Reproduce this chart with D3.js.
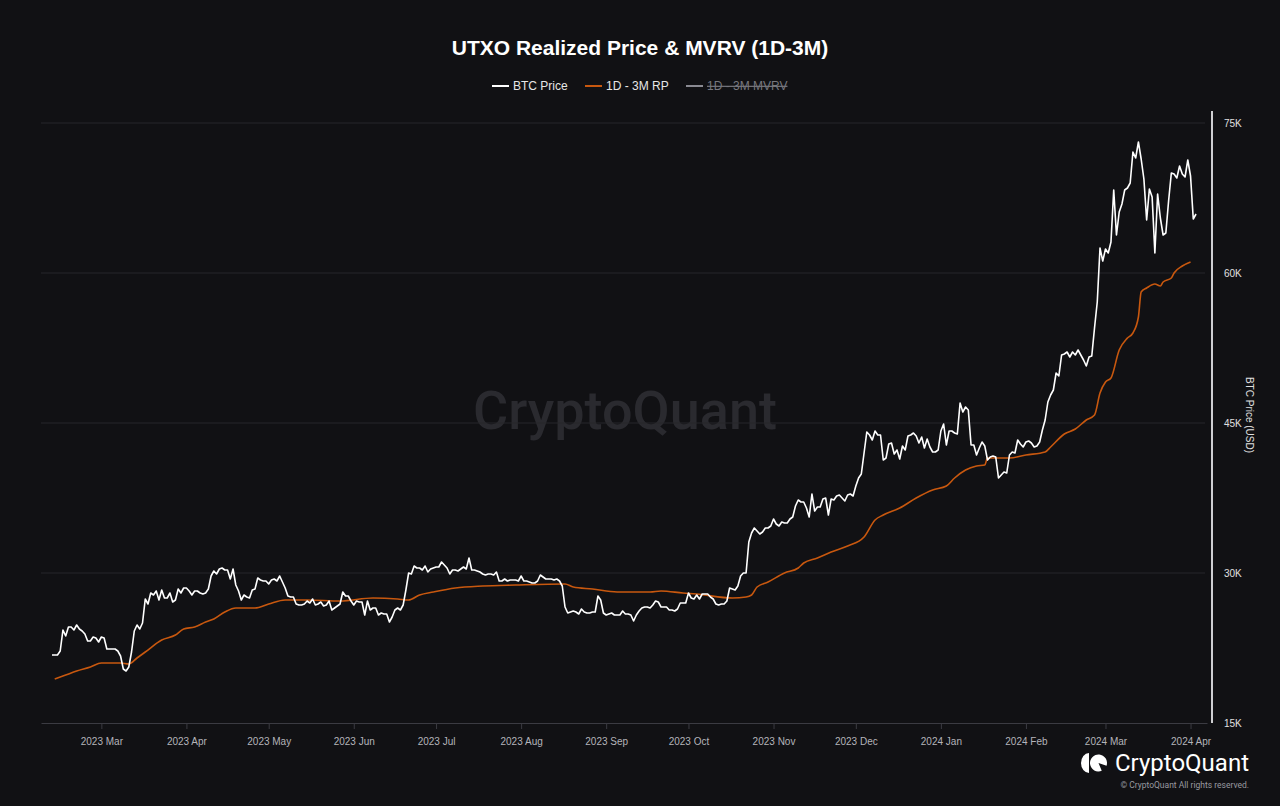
<!DOCTYPE html>
<html>
<head>
<meta charset="utf-8">
<script src="https://cdn.jsdelivr.net/npm/d3@7"></script>
<style>
  html, body { margin: 0; padding: 0; background: #111114; }
  svg { display: block; font-family: "Liberation Sans", Arial, sans-serif; }
</style>
</head>
<body>
<div id="chart"></div>
<script>
// daily BTC close (thousand USD), first value is 2023-02-11
const priceStart = '2023-02-11';
const btcPrice = [
  21.8, 21.8, 21.8, 22.2, 24.3, 23.7, 24.6, 24.6, 24.3, 24.8, 24.4, 24.2, 23.9, 23.2, 23.2, 23.6, 23.5, 23.1,
  // 2023 Mar
  23.6, 23.5, 22.4, 22.4, 22.4, 22.4, 22.2, 21.7, 20.4, 20.2, 20.6, 22.1, 24.2, 24.8, 24.4, 25.0, 27.4, 26.9, 28.0, 27.8, 28.2, 27.3, 28.3, 27.5, 27.5, 28.0, 27.1, 27.3, 28.4, 28.0, 28.5,
  // 2023 Apr
  28.5, 28.2, 27.8, 28.2, 28.2, 28.0, 27.9, 28.0, 28.4, 29.7, 30.2, 29.9, 30.4, 30.5, 30.3, 30.3, 29.4, 30.4, 28.8, 28.2, 27.3, 27.8, 27.6, 27.5, 28.3, 28.4, 29.5, 29.3, 29.2, 29.2,
  // 2023 May
  28.9, 29.3, 29.4, 29.2, 29.7, 29.1, 28.5, 27.7, 27.6, 27.6, 26.9, 26.8, 26.8, 26.9, 27.2, 27.0, 27.4, 26.8, 26.9, 27.1, 26.7, 26.8, 27.2, 26.3, 26.5, 26.7, 26.9, 28.1, 27.7, 27.7, 27.2,
  // 2023 Jun
  26.8, 27.2, 27.1, 27.1, 25.8, 27.2, 26.3, 26.5, 26.5, 25.8, 26.0, 25.9, 25.9, 25.1, 25.6, 26.3, 26.5, 26.3, 26.8, 28.3, 30.0, 29.9, 30.7, 30.5, 30.5, 30.3, 30.7, 30.1, 30.4, 30.5,
  // 2023 Jul
  30.6, 30.6, 31.1, 30.8, 30.5, 29.9, 30.3, 30.3, 30.2, 30.4, 30.6, 30.4, 31.5, 30.3, 30.3, 30.2, 30.1, 29.9, 29.8, 29.9, 29.9, 29.8, 30.1, 29.2, 29.2, 29.4, 29.2, 29.3, 29.3, 29.3, 29.2,
  // 2023 Aug
  29.7, 29.2, 29.2, 29.1, 29.0, 29.0, 29.2, 29.8, 29.6, 29.4, 29.4, 29.4, 29.3, 29.4, 29.2, 28.7, 26.6, 26.0, 26.1, 26.2, 26.1, 25.9, 26.4, 26.1, 26.0, 26.0, 26.1, 26.1, 27.7, 27.3, 26.0,
  // 2023 Sep
  25.8, 25.9, 26.0, 25.8, 25.8, 25.8, 26.2, 25.9, 25.9, 25.8, 25.2, 25.8, 26.2, 26.5, 26.6, 26.6, 26.5, 26.8, 27.2, 27.1, 26.6, 26.6, 26.6, 26.3, 26.3, 26.2, 26.4, 27.0, 27.0, 27.0,
  // 2023 Oct
  28.0, 27.5, 27.4, 27.8, 27.4, 27.9, 27.9, 27.9, 27.6, 27.4, 26.9, 26.8, 26.9, 26.9, 27.2, 28.5, 28.4, 28.3, 28.7, 29.7, 30.0, 30.0, 33.1, 34.0, 34.5, 34.2, 33.9, 34.1, 34.5, 34.5, 34.7,
  // 2023 Nov
  35.4, 34.9, 34.7, 35.1, 35.0, 35.0, 35.4, 35.6, 36.7, 37.3, 37.1, 37.1, 36.5, 35.6, 37.9, 36.2, 36.6, 36.6, 37.4, 37.5, 35.8, 37.4, 37.3, 37.7, 37.8, 37.5, 37.2, 37.8, 37.9, 37.7,
  // 2023 Dec
  38.7, 39.5, 39.9, 42.0, 44.1, 43.8, 43.3, 44.2, 43.8, 43.8, 41.3, 41.5, 42.9, 43.0, 41.9, 42.3, 41.4, 42.7, 42.3, 43.7, 43.8, 44.0, 43.7, 43.0, 43.6, 42.5, 43.4, 42.6, 42.1, 42.1, 42.3,
  // 2024 Jan
  44.2, 44.9, 42.8, 44.2, 44.2, 44.0, 43.9, 47.0, 46.1, 46.6, 46.3, 42.8, 42.8, 41.8, 42.5, 43.1, 42.7, 41.3, 41.6, 41.7, 41.6, 39.5, 39.8, 40.1, 40.0, 41.8, 42.1, 42.0, 43.3, 42.9, 42.6,
  // 2024 Feb
  43.1, 43.2, 43.0, 42.6, 42.7, 43.1, 44.3, 45.3, 47.1, 47.8, 48.3, 50.0, 49.7, 51.8, 51.9, 52.1, 51.6, 52.1, 51.8, 52.3, 51.8, 51.3, 50.7, 51.6, 51.7, 54.5, 57.1, 62.5, 61.2,
  // 2024 Mar
  62.4, 62.0, 63.1, 68.3, 63.8, 66.1, 66.9, 68.3, 68.5, 69.0, 72.1, 71.5, 73.1, 71.4, 69.4, 65.3, 68.4, 67.6, 62.0, 67.9, 65.5, 63.8, 64.0, 67.2, 70.0, 69.9, 69.5, 70.7, 69.9, 69.6, 71.3,
  // 2024 Apr
  69.7, 65.4, 65.9
];

// 1D-3M realized price (thousand USD), read at turning points
const rpDates = [
  '2023-02-12', '2023-02-16', '2023-02-20', '2023-02-25', '2023-03-01', '2023-03-08', '2023-03-11', '2023-03-14',
  '2023-03-17', '2023-03-23', '2023-03-28', '2023-03-31', '2023-04-04', '2023-04-08', '2023-04-11', '2023-04-15',
  '2023-04-19', '2023-04-26', '2023-05-01', '2023-05-07', '2023-05-15', '2023-05-27', '2023-06-08', '2023-06-17',
  '2023-06-21', '2023-06-25', '2023-06-30', '2023-07-08', '2023-07-18', '2023-07-30', '2023-08-17', '2023-08-20',
  '2023-08-27', '2023-09-05', '2023-09-17', '2023-09-21', '2023-09-29', '2023-10-04', '2023-10-17', '2023-10-22',
  '2023-10-24', '2023-10-26', '2023-10-30', '2023-11-05', '2023-11-10', '2023-11-12', '2023-11-17', '2023-11-22',
  '2023-11-28', '2023-12-04', '2023-12-08', '2023-12-11', '2023-12-17', '2023-12-23', '2023-12-29', '2024-01-03',
  '2024-01-06', '2024-01-10', '2024-01-14', '2024-01-17', '2024-01-18', '2024-01-26', '2024-02-01', '2024-02-08',
  '2024-02-10', '2024-02-15', '2024-02-19', '2024-02-23', '2024-02-26', '2024-02-28', '2024-03-01', '2024-03-03',
  '2024-03-06', '2024-03-09', '2024-03-11', '2024-03-13', '2024-03-14', '2024-03-16', '2024-03-19', '2024-03-21',
  '2024-03-22', '2024-03-25', '2024-03-26', '2024-03-29', '2024-04-01'
];
const rpValues = [
  19.4, 19.8, 20.2, 20.6, 21.0, 21.0, 20.9, 21.5,
  22.1, 23.3, 23.8, 24.4, 24.6, 25.1, 25.4, 26.1,
  26.5, 26.5, 26.9, 27.3, 27.3, 27.2, 27.5, 27.4,
  27.3, 27.8, 28.1, 28.5, 28.7, 28.8, 28.9, 28.6,
  28.4, 28.1, 28.1, 28.2, 28.0, 27.9, 27.5, 27.6,
  27.8, 28.6, 29.1, 30.0, 30.5, 31.0, 31.5, 32.1,
  32.7, 33.6, 35.3, 35.8, 36.5, 37.5, 38.3, 38.7,
  39.5, 40.3, 40.7, 40.8, 41.5, 41.5, 41.8, 42.1,
  42.6, 43.9, 44.4, 45.3, 45.8, 48.0, 49.1, 49.5,
  52.3, 53.5, 54.0, 55.6, 58.1, 58.5, 58.9, 58.7,
  59.1, 59.5, 60.0, 60.7, 61.1
];

const yTicks = [15, 30, 45, 60, 75];
const xStart = '2023-02-07';
const xEnd = '2024-04-07';

const legendItems = [
  {name: 'BTC Price', color: '#ffffff', hidden: false},
  {name: '1D - 3M RP', color: '#c8580f', hidden: false},
  {name: '1D - 3M MVRV', color: '#8a8a92', hidden: true}
];

const width = 1280;
const height = 806;
const margin = {top: 123, right: 73, bottom: 83, left: 41};

const parse = d3.timeParse('%Y-%m-%d');
const t0 = parse(priceStart);
const priceData = btcPrice.map((v, i) => ({date: d3.timeDay.offset(t0, i), value: v}));
const rpData = rpDates.map((d, i) => ({date: parse(d), value: rpValues[i]}));

const xScale = d3.scaleTime()
  .domain([parse(xStart), parse(xEnd)])
  .range([margin.left, width - margin.right]);

const yScale = d3.scaleLinear()
  .domain([15, 75])
  .range([height - margin.bottom, margin.top]);

const svg = d3.select('#chart')
  .append('svg')
  .attr('width', width)
  .attr('height', height);

svg.append('rect').attr('width', width).attr('height', height).attr('fill', '#111114');

// title
svg.append('text')
  .attr('x', 640).attr('y', 55)
  .attr('text-anchor', 'middle')
  .attr('fill', '#ffffff')
  .attr('font-size', 21)
  .attr('font-weight', 'bold')
  .text('UTXO Realized Price & MVRV (1D-3M)');

// legend
const legendX = [492, 585, 686];
const legend = svg.append('g').selectAll('g')
  .data(legendItems)
  .join('g')
  .attr('transform', (d, i) => `translate(${legendX[i]},86)`);
legend.append('line')
  .attr('x1', 0).attr('x2', 17)
  .attr('stroke', d => d.color)
  .attr('stroke-width', 2);
legend.append('text')
  .attr('x', 21).attr('y', 4)
  .attr('font-size', 12)
  .attr('fill', d => d.hidden ? '#77777e' : '#e6e6e6')
  .attr('text-decoration', d => d.hidden ? 'line-through' : null)
  .text(d => d.name);

// watermark
svg.append('text')
  .attr('x', 625).attr('y', 429)
  .attr('text-anchor', 'middle')
  .attr('font-family', 'Roboto, sans-serif')
  .attr('font-weight', 500)
  .attr('font-size', 54)
  .attr('fill', '#2a2a2f')
  .text('CryptoQuant');

// grid lines
svg.append('g')
  .selectAll('line')
  .data(yTicks.slice(1))
  .join('line')
  .attr('x1', margin.left).attr('x2', 1205)
  .attr('y1', d => yScale(d)).attr('y2', d => yScale(d))
  .attr('stroke', '#26262b')
  .attr('stroke-width', 1);

// x axis
const xAxis = svg.append('g')
  .attr('transform', `translate(0,${height - margin.bottom})`)
  .call(d3.axisBottom(xScale)
    .ticks(d3.timeMonth.every(1))
    .tickFormat(d3.timeFormat('%Y %b'))
    .tickSize(6)
    .tickSizeOuter(0));
xAxis.select('.domain').attr('stroke', '#3b3b42');
xAxis.selectAll('.tick line').attr('stroke', '#3b3b42');
xAxis.selectAll('.tick text')
  .attr('fill', '#b4b4ba')
  .attr('font-size', 10)
  .attr('dy', 13)
  .attr('font-family', '"Liberation Sans", Arial, sans-serif');

// y axis on the right
const yAxis = svg.append('g')
  .attr('transform', 'translate(1212,0)')
  .call(d3.axisRight(yScale)
    .tickValues(yTicks)
    .tickFormat(d => d + 'K')
    .tickSize(0)
    .tickPadding(12));
yAxis.select('.domain').remove();
yAxis.selectAll('.tick text')
  .attr('fill', '#e0e0e0')
  .attr('font-size', 10)
  .attr('font-family', '"Liberation Sans", Arial, sans-serif');
svg.append('line')
  .attr('x1', 1212).attr('x2', 1212)
  .attr('y1', 111).attr('y2', height - margin.bottom)
  .attr('stroke', '#cfcfd2')
  .attr('stroke-width', 2);
svg.append('text')
  .attr('transform', 'translate(1246,415) rotate(90)')
  .attr('text-anchor', 'middle')
  .attr('font-size', 10)
  .attr('fill', '#e0e0e0')
  .text('BTC Price (USD)');

// lines
const line = d3.line()
  .x(d => xScale(d.date))
  .y(d => yScale(d.value));

svg.append('path')
  .datum(rpData)
  .attr('fill', 'none')
  .attr('stroke', '#c8580f')
  .attr('stroke-width', 1.6)
  .attr('d', line.curve(d3.curveMonotoneX));

svg.append('path')
  .datum(priceData)
  .attr('fill', 'none')
  .attr('stroke', '#ffffff')
  .attr('stroke-width', 1.6)
  .attr('stroke-linejoin', 'round')
  .attr('d', line.curve(d3.curveLinear));

// brand logo
const logo = svg.append('g').attr('transform', 'translate(1082,763)');
logo.append('path')
  .attr('d', 'M7,-10 A8,10 0 0 0 7,10 Z')
  .attr('fill', '#ffffff');
logo.append('path')
  .attr('d', d3.arc()({innerRadius: 0, outerRadius: 8.5, startAngle: 2.75, endAngle: 2.75 + Math.PI * 2 - 0.85}))
  .attr('transform', 'translate(16.5,0)')
  .attr('fill', '#ffffff');
svg.append('text')
  .attr('x', 1249).attr('y', 771)
  .attr('text-anchor', 'end')
  .attr('font-family', 'Roboto, sans-serif')
  .attr('font-size', 24)
  .attr('fill', '#ffffff')
  .text('CryptoQuant');
svg.append('text')
  .attr('x', 1249).attr('y', 788)
  .attr('text-anchor', 'end')
  .attr('font-family', 'Roboto, sans-serif')
  .attr('font-size', 8.5)
  .attr('fill', '#9a9aa0')
  .text('© CryptoQuant All rights reserved.');
</script>
</body>
</html>
